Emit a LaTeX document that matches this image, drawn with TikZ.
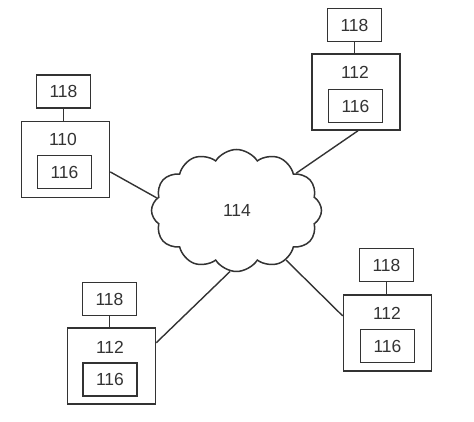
\documentclass[tikz,border=0pt]{standalone}
\usepackage{fontspec}
\setmainfont{Liberation Sans}
\usetikzlibrary{shapes.symbols,calc}
\begin{document}
\begin{tikzpicture}[x=1pt,y=-1pt,
  every node/.style={font=\fontsize{17.5}{20}\selectfont, text=black!80},
  ln/.style={draw=black!80, line width=1.5pt},
  smallbox/.style={ln, rectangle, minimum width=54pt, minimum height=33pt, inner sep=0pt},
  outerbox/.style={ln, rectangle, minimum width=88pt, minimum height=76pt, inner sep=0pt},
  lbl/.style={inner sep=0pt},
  conn/.style={draw=black!80, line width=1.4pt}]
\useasboundingbox (0,0) rectangle (474,422);
% cloud
\node[ln, cloud, cloud puffs=12, cloud puff arc=115, aspect=1.4, inner sep=0pt,
      minimum width=170pt, minimum height=122pt] (net) at (236.5,210.5) {};
\node[lbl] (l114) at (237,210) {114};
% group 1 (left)
\node[outerbox] (o1) at (65.5,159.5) {};
\node[smallbox] (t1) at (63.5,91.5) {118};
\node[smallbox] (i1) at (64.5,172) {116};
\node[lbl] (n1) at (63,139) {110};
% group 2 (top right)
\node[outerbox] (o2) at (356,92) {};
\node[smallbox] (t2) at (354.5,25) {118};
\node[smallbox] (i2) at (355.5,106) {116};
\node[lbl] (n2) at (355,72) {112};
% group 3 (bottom left)
\node[outerbox] (o3) at (111.5,366) {};
\node[smallbox] (t3) at (109.5,299) {118};
\node[smallbox] (i3) at (110,379.5) {116};
\node[lbl] (n3) at (110,347) {112};
% group 4 (bottom right)
\node[outerbox] (o4) at (387.5,333) {};
\node[smallbox] (t4) at (386.5,265) {118};
\node[smallbox] (i4) at (387.5,346) {116};
\node[lbl] (n4) at (387,313) {112};
% 118 to outer boxes
\draw[conn] (t1.south) -- (t1.south |- o1.north);
\draw[conn] (t2.south) -- (t2.south |- o2.north);
\draw[conn] (t3.south) -- (t3.south |- o3.north);
\draw[conn] (t4.south) -- (t4.south |- o4.north);
% to cloud
\draw[conn] ($(o1.north east)!0.66!(o1.south east)$) -- (net.171);
\draw[conn] ($(o2.south)+(2,0)$) -- (net.32);
\draw[conn] ($(o3.north east)!0.2!(o3.south east)$) -- (net.264);
\draw[conn] ($(o4.north west)!0.28!(o4.south west)$) -- (net.315);
\end{tikzpicture}
\end{document}
